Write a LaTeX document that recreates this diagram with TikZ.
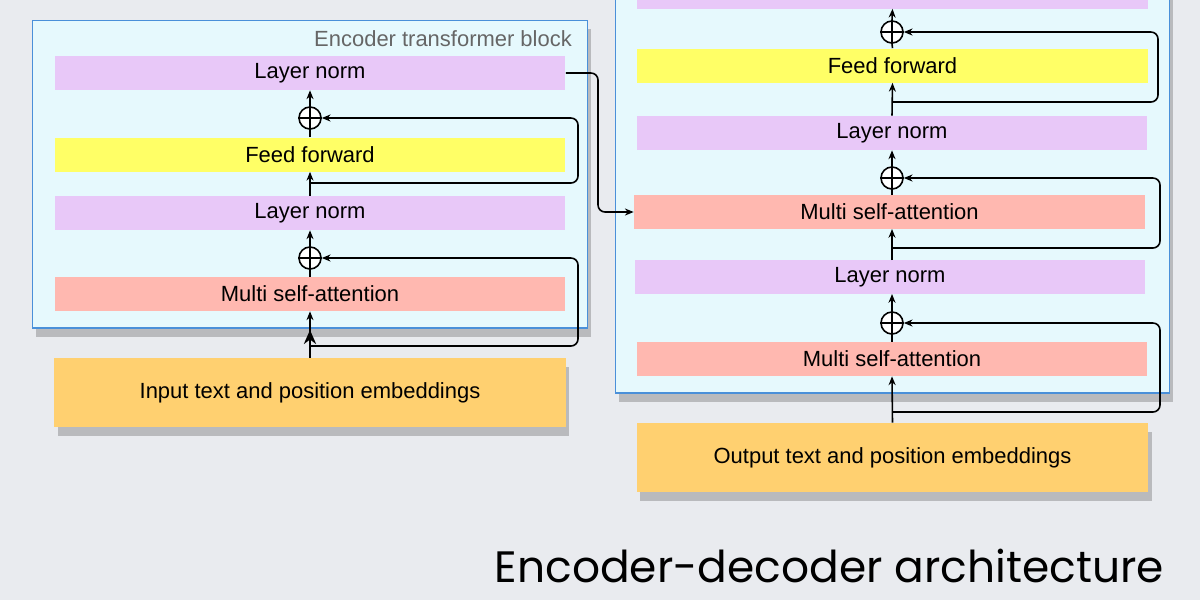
\documentclass[tikz,border=0pt]{standalone}
\usepackage{fontspec}
\setmainfont{Liberation Sans}
\newfontfamily\titlefont{Poppins}
\usetikzlibrary{arrows.meta,shadows}
\definecolor{bg}{HTML}{E9EBEF}
\definecolor{blockfill}{HTML}{E6F9FD}
\definecolor{blockline}{HTML}{4A90D9}
\definecolor{lnfill}{HTML}{E8C8F8}
\definecolor{fffill}{HTML}{FFFF66}
\definecolor{msafill}{HTML}{FFB8B0}
\definecolor{embfill}{HTML}{FFD070}
\begin{document}
\begin{tikzpicture}[x=0.02cm,y=-0.02cm,
  shad/.style={drop shadow={opacity=0.3,shadow xshift=2pt,shadow yshift=-5pt,fill=black!70}},
  block/.style={draw=blockline,fill=blockfill,line width=0.6pt,shad},
  lay/.style={minimum height=0.68cm,inner sep=0pt,font=\fontsize{12.5}{14}\selectfont},
  ln/.style={lay,fill=lnfill,minimum width=10.22cm},
  ff/.style={lay,fill=fffill,minimum width=10.22cm},
  msa/.style={lay,fill=msafill,minimum width=10.22cm},
  emb/.style={lay,fill=embfill,minimum width=10.24cm,minimum height=1.38cm,shad},
  plus/.style={circle,draw,line width=0.9pt,fill=white,minimum size=0.44cm,inner sep=0pt},
  conn/.style={line width=0.9pt,-{Stealth[length=5pt,width=4pt]},rounded corners=4pt},
  line/.style={line width=0.9pt,rounded corners=4pt}]
\fill[bg] (0,0) rectangle (1200,600);
\useasboundingbox (0,0) rectangle (1200,600);
% encoder
\node[block,minimum width=11.12cm,minimum height=6.16cm,inner sep=0pt] (enc) at (310,174) {};
\node[anchor=north east,text=black!60,font=\fontsize{12.5}{14}\selectfont] (enctitle) at (578,24) {Encoder transformer block};
\node[ln] (eln2) at (310,73) {Layer norm};
\node[plus] (ep2) at (310,118) {};
\node[ff] (eff) at (310,154.5) {Feed forward};
\node[ln] (eln1) at (310,213) {Layer norm};
\node[plus] (ep1) at (310,258) {};
\node[msa] (emsa) at (310,294) {Multi self-attention};
\node[emb] (ein) at (310,392.5) {Input text and position embeddings};
\draw[line width=0.7pt] (ep1.north)--(ep1.south) (ep1.west)--(ep1.east);
\draw[line width=0.7pt] (ep2.north)--(ep2.south) (ep2.west)--(ep2.east);
\coordinate (eb1) at (310,346);
\coordinate (eb2) at (310,183);
\draw[line,-{Stealth[length=8pt,width=7pt]}] (ein.north)--(310,330);
\draw[conn] (310,332)--(emsa.south);
\draw[conn] (eb1)--(578,346)--(578,258)--(ep1.east);
\draw[line] (emsa.north)--(ep1.south);
\draw[conn] (ep1.north)--(eln1.south);
\draw[conn] (eln1.north)--(eff.south);
\draw[conn] (eb2)--(578,183)--(578,118)--(ep2.east);
\draw[line] (eff.north)--(ep2.south);
\draw[conn] (ep2.north)--(eln2.south);
% decoder
\node[block,minimum width=11.1cm,minimum height=8.2cm,inner sep=0pt] (dec) at (892.5,188) {};
\node[ln,minimum height=0.5cm] (dln3) at (892.5,-4) {};
\node[plus] (dp3) at (892,32) {};
\node[ff] (dff) at (892.5,65.5) {Feed forward};
\node[ln] (dln2) at (892,133) {Layer norm};
\node[plus] (dp2) at (892,178) {};
\node[msa] (dmsa2) at (889.5,212) {Multi self-attention};
\node[ln] (dln1) at (890,277) {Layer norm};
\node[plus] (dp1) at (892,323) {};
\node[msa] (dmsa1) at (892,359) {Multi self-attention};
\node[emb] (dout) at (892.5,457.5) {Output text and position embeddings};
\foreach \p in {dp1,dp2,dp3}{\draw[line width=0.7pt] (\p.north)--(\p.south) (\p.west)--(\p.east);}
\coordinate (db1) at (892,412);
\coordinate (db2) at (892,248);
\coordinate (db3) at (892,102);
\draw[conn] (dout.north)--(dmsa1.south);
\draw[conn] (db1)--(1160,412)--(1160,323)--(dp1.east);
\draw[line] (dmsa1.north)--(dp1.south);
\draw[conn] (dp1.north)--(892,294);
\draw[conn] (892,260)--(892,229);
\draw[conn] (db2)--(1160,248)--(1160,178)--(dp2.east);
\draw[line] (892,195)--(dp2.south);
\draw[conn] (dp2.north)--(dln2.south);
\draw[conn] (dln2.north)--(dff.south);
\draw[conn] (db3)--(1158,102)--(1158,32)--(dp3.east);
\draw[line] (dff.north)--(dp3.south);
\draw[conn] (dp3.north)--(dln3.south);
% cross connection
\draw[conn] (eln2.east)--(598,73)--(598,212)--(dmsa2.west);
% title
\node[anchor=base east,font=\titlefont\fontsize{25}{28}\selectfont] (title) at (1170,582) {Encoder-decoder architecture};
\end{tikzpicture}
\end{document}
